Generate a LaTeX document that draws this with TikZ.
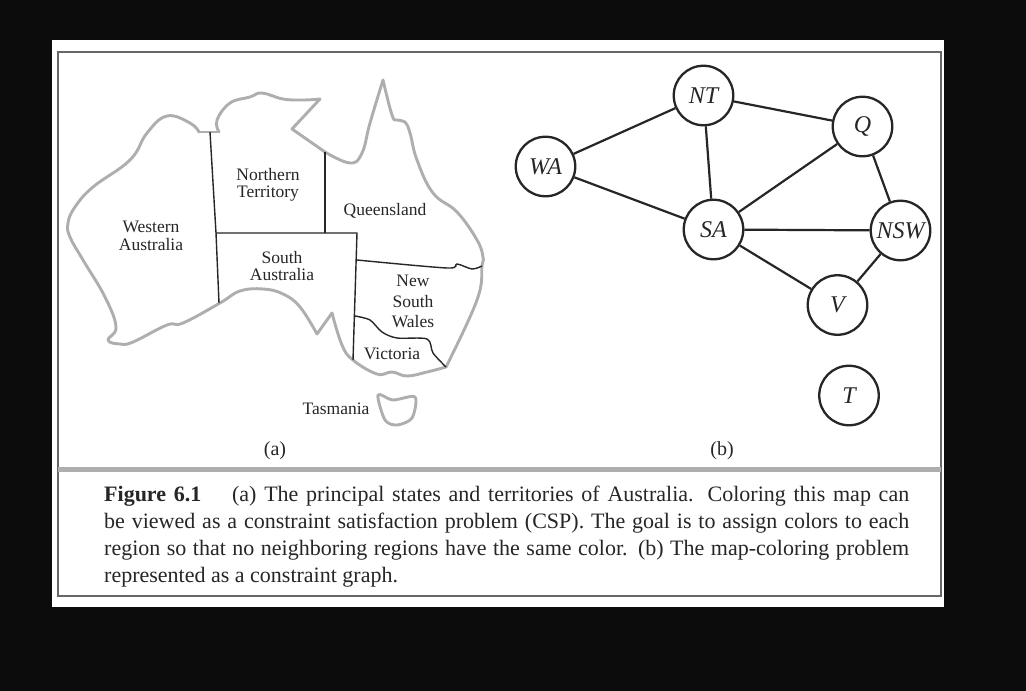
\documentclass[tikz,border=0pt]{standalone}
\usepackage{fontspec}
\setmainfont{Liberation Serif}
\definecolor{bgdark}{HTML}{0C0C0C}
\definecolor{coast}{HTML}{AEAEAE}
\definecolor{ink}{HTML}{262626}
\tikzset{
  coastline/.style={draw=coast,line width=2.9pt,line join=round,line cap=round},
  borderline/.style={draw=ink,line width=1.4pt,line join=round},
  framebox/.style={draw=ink!70!white,line width=1.3pt},
  region/.style={font=\fontsize{17.5}{17.5}\selectfont,text=ink,align=center,inner sep=0pt},
  sublabel/.style={font=\fontsize{20}{24}\selectfont,text=ink,inner sep=0pt},
  vertexnode/.style={circle,draw=ink,line width=2.3pt,fill=white,minimum size=59.5pt,inner sep=0pt,font=\fontsize{24}{28}\itshape\selectfont,text=ink},
  edgeline/.style={draw=ink,line width=2.2pt},
  captiontext/.style={font=\fontsize{22}{27}\selectfont,text=ink,inner sep=0pt,anchor=north west,text width=805pt,align=justify}
}
\begin{document}
\begin{tikzpicture}[x=1pt,y=-1pt]
\useasboundingbox (0,0) rectangle (1026,691);
\fill[bgdark] (0,0) rectangle (1026,691);
\fill[white] (52,40) rectangle (944,607);
\draw[framebox] (58,52) rectangle (941,596);
\draw[draw=coast,line width=4.6pt] (58,469.5) -- (941,469.5);
% map
\draw[coastline] plot[smooth,tension=0.7] coordinates {(199,132)(190,123)(167,116)(147,133)(130,160)(93,187)(75,207)(68,223)(70,237)(83,260)(105,297)(116,327)(108,340)(120,344)(133,342)(167,325)(183,323)(220,303)(240,291)(263,289)(283,294)(300,307)(317,334)};
\draw[coastline] (199,132) -- (219,132);
\draw[coastline] plot[smooth,tension=0.7] coordinates {(219,132)(217,120)(230,103)(250,97)(262,93)(283,99)(303,100)(320,99)};
\draw[coastline] (320,99) -- (292,129) -- (325,152);
\draw[coastline] plot[smooth,tension=0.7] coordinates {(325,152)(350,163)(362,153)(370,123)(383,80)};
\draw[coastline] plot[smooth,tension=0.7] coordinates {(383,80)(392,115)(397,120)(405,122)(410,133)(417,160)(433,193)(457,212)(477,240)(483,257)(482,266)(477,300)(446,367)};
\draw[coastline] plot[smooth,tension=0.7] coordinates {(446,367)(427,372)(407,376)(392,372)(377,374)(353,360)(342,345)(332,313)};
\draw[coastline] (332,313) -- (317,334);
\draw[coastline] plot[smooth cycle,tension=0.5] coordinates {(378,395)(393,400)(415,397)(412,418)(397,425)(385,420)};
% borders
\draw[borderline] (210,132) -- (216,233) -- (219,303);
\draw[borderline] (216,233) -- (357,233) -- (353,360);
\draw[borderline] (325,152) -- (325,233);
\draw[borderline] plot[smooth,tension=0.5] coordinates {(357,260)(447,268)(457,264)(472,269)(482,266)};
\draw[borderline] plot[smooth,tension=0.5] coordinates {(355,316)(370,320)(382,332)(397,338)(427,339)(433,353)(446,367)};
% region labels
\node[region] (wa) at (151,236) {Western\\Australia};
\node[region] (nt) at (268,185) {Northern\\Territory};
\node[region] (ql) at (385,211) {Queensland};
\node[region] (sa) at (282,266) {South\\Australia};
\node[region,font=\fontsize{17.5}{20.5}\selectfont] (nsw) at (413,301.5) {New\\South\\Wales};
\node[region] (vic) at (392,354) {Victoria};
\node[region] (tas) at (336,409) {Tasmania};
\node[sublabel] (la) at (275,451) {(a)};
\node[sublabel] (lb) at (722,451) {(b)};
% graph
\node[vertexnode] (WA) at (545.5,166.5) {WA};
\node[vertexnode] (NT) at (703.5,95.5) {NT};
\node[vertexnode] (Q) at (862.5,126.5) {Q};
\node[vertexnode] (SA) at (713.5,229.5) {SA};
\node[vertexnode] (NSW) at (900.5,230.5) {NSW};
\node[vertexnode] (V) at (837.5,305) {V};
\node[vertexnode] (T) at (849,395.5) {T};
\draw[edgeline] (WA) -- (NT);
\draw[edgeline] (WA) -- (SA);
\draw[edgeline] (NT) -- (SA);
\draw[edgeline] (NT) -- (Q);
\draw[edgeline] (SA) -- (Q);
\draw[edgeline] (SA) -- (NSW);
\draw[edgeline] (SA) -- (V);
\draw[edgeline] (Q) -- (NSW);
\draw[edgeline] (NSW) -- (V);
% caption
\node[captiontext] (cap) at (104,486) {\textbf{Figure 6.1}\hspace{1.4em}(a) The principal states and territories of Australia. Coloring this map can\linebreak be viewed as a constraint satisfaction problem (CSP). The goal is to assign colors to each\linebreak region so that no neighboring regions have the same color. (b) The map-coloring problem\linebreak represented as a constraint graph.};
\end{tikzpicture}
\end{document}
